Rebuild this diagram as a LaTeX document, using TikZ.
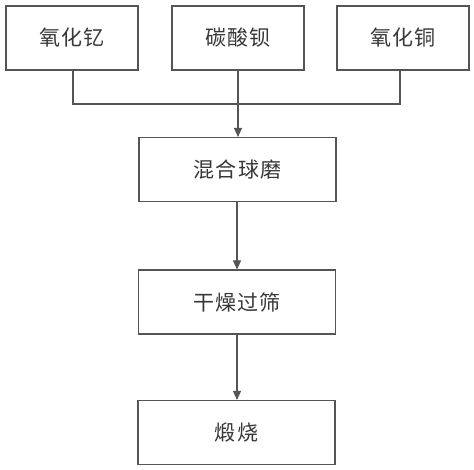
\documentclass[tikz,border=0pt]{standalone}
\usepackage{fontspec}
\newfontfamily\cjk{Noto Sans CJK SC}[LetterSpace=6]
\usetikzlibrary{arrows.meta}
\definecolor{linegray}{RGB}{85,85,85}
\definecolor{textgray}{RGB}{55,55,55}
\begin{document}
\begin{tikzpicture}[x=1pt,y=-1pt,
  box/.style={draw=linegray,line width=1.1pt,minimum width=132pt,minimum height=64pt,inner sep=0pt,
    font=\cjk\fontsize{21}{24}\selectfont,text=textgray},
  midbox/.style={box,minimum width=197pt},
  conn/.style={draw=linegray,line width=1.1pt},
  arr/.style={conn,-{Triangle[length=9pt,width=8pt]}}]
\useasboundingbox (0,0) rectangle (474,470);
\node[box] (a) at (72,38) {氧化钇};
\node[box] (b) at (238,38) {碳酸钡};
\node[box] (c) at (403,38) {氧化铜};
\node[midbox] (m) at (237.5,169.5) {混合球磨};
\node[midbox] (d) at (237,302) {干燥过筛};
\node[midbox] (e) at (236.5,432.5) {煅烧};
\coordinate (j) at (238,104);
\draw[conn] (a.south -| 73,0) |- (j) -| (c.south -| 400,0);
\draw[arr] (b.south) -- (m.north -| b.south);
\draw[arr] (m.south -| 237,0) -- (d.north -| 237,0);
\draw[arr] (d.south -| 237,0) -- (e.north -| 237,0);
\end{tikzpicture}
\end{document}
